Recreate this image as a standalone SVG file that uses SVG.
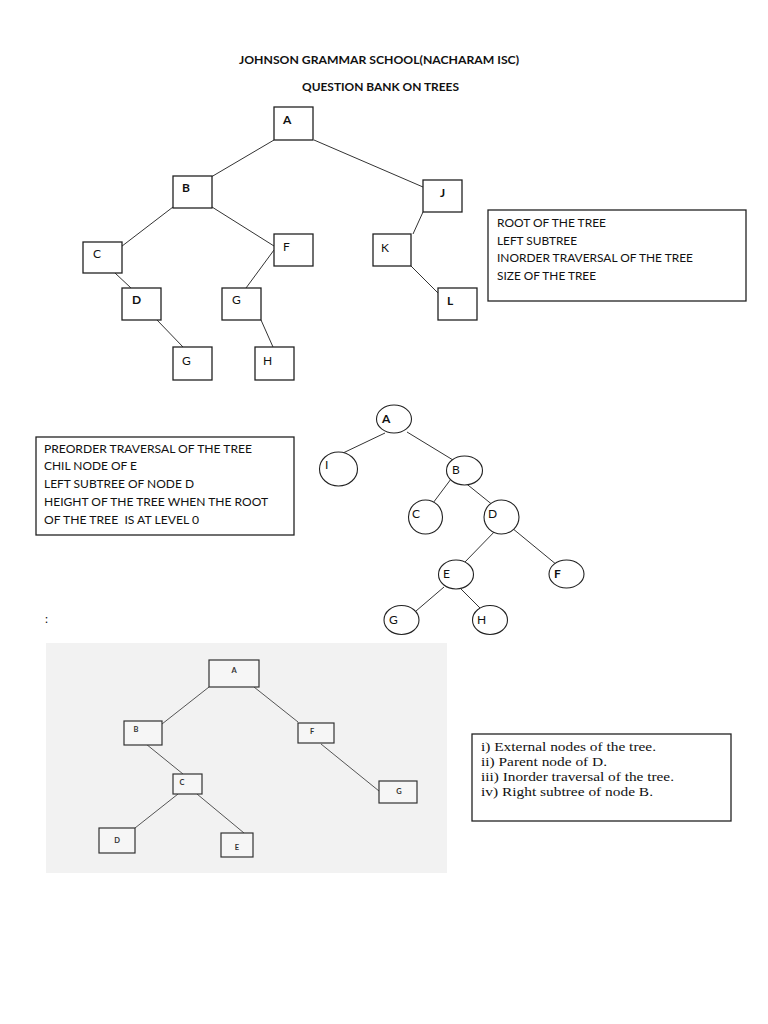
<svg xmlns="http://www.w3.org/2000/svg" width="768" height="1024" viewBox="0 0 768 1024">
<style>
text{font-family:Lato,"Open Sans","Liberation Sans",sans-serif;fill:#111;}
.t{font-size:12px;font-weight:bold;}
.box{fill:#fff;stroke:#222;stroke-width:1.3;}
.lbl{font-size:12px;}
.b{font-weight:bold;}
.edge{stroke:#333;stroke-width:1;fill:none;}
.circ{fill:#fff;stroke:#222;stroke-width:1.1;}
.q{font-size:12px;}
.qs{font-family:"Liberation Serif","Times New Roman",serif;font-size:13px;}
.g3box{fill:#f6f6f6;stroke:#333;stroke-width:1.2;}
.g3lbl{font-size:7.5px;font-weight:bold;fill:#333;}
.edge3{stroke:#555;stroke-width:1;fill:none;}
</style>
<rect width="768" height="1024" fill="#fff"/>
<g id="title">
<text class="t" x="239" y="64" textLength="280" lengthAdjust="spacingAndGlyphs">JOHNSON GRAMMAR SCHOOL(NACHARAM ISC)</text>
<text class="t" x="302" y="91" textLength="157" lengthAdjust="spacingAndGlyphs">QUESTION BANK ON TREES</text>
</g>
<!-- Tree 1 -->
<g id="tree1-edges">
<line class="edge" x1="274" y1="140" x2="206" y2="180"/>
<line class="edge" x1="314" y1="140" x2="423" y2="187"/>
<line class="edge" x1="173" y1="207" x2="113" y2="253"/>
<line class="edge" x1="212" y1="207" x2="274" y2="246"/>
<line class="edge" x1="115" y1="273" x2="131" y2="288"/>
<line class="edge" x1="274" y1="250" x2="246" y2="288"/>
<line class="edge" x1="423" y1="212" x2="413" y2="234"/>
<line class="edge" x1="411" y1="266" x2="438" y2="293"/>
<line class="edge" x1="157" y1="320" x2="183" y2="347"/>
<line class="edge" x1="261" y1="320" x2="273" y2="347"/>
</g>
<g id="t1-A"><rect class="box" x="274" y="107" width="39" height="33"/><text class="lbl b" x="283" y="124">A</text></g>
<g id="t1-B"><rect class="box" x="173" y="176" width="39" height="32"/><text class="lbl b" x="182" y="192">B</text></g>
<g id="t1-J"><rect class="box" x="423" y="180" width="39" height="32"/><text class="lbl b" x="440" y="197">J</text></g>
<g id="t1-C"><rect class="box" x="83" y="242" width="39" height="31"/><text class="lbl" x="93" y="258">C</text></g>
<g id="t1-F"><rect class="box" x="274" y="234" width="39" height="32"/><text class="lbl" x="283" y="251">F</text></g>
<g id="t1-K"><rect class="box" x="373" y="234" width="38" height="32"/><text class="lbl" x="381" y="252">K</text></g>
<g id="t1-D"><rect class="box" x="122" y="288" width="39" height="32"/><text class="lbl b" x="132" y="304">D</text></g>
<g id="t1-G"><rect class="box" x="222" y="288" width="39" height="32"/><text class="lbl" x="232" y="304">G</text></g>
<g id="t1-L"><rect class="box" x="438" y="288" width="39" height="32"/><text class="lbl b" x="447" y="305">L</text></g>
<g id="t1-G2"><rect class="box" x="173" y="347" width="39" height="33"/><text class="lbl" x="182" y="365">G</text></g>
<g id="t1-H"><rect class="box" x="255" y="347" width="39" height="33"/><text class="lbl" x="263" y="365">H</text></g>
<g id="q1">
<rect class="box" x="488" y="210" width="258" height="91"/>
<text class="q" x="497" y="227" textLength="109" lengthAdjust="spacingAndGlyphs">ROOT OF THE TREE</text>
<text class="q" x="497" y="244.5" textLength="80" lengthAdjust="spacingAndGlyphs">LEFT SUBTREE</text>
<text class="q" x="497" y="262" textLength="196" lengthAdjust="spacingAndGlyphs">INORDER TRAVERSAL OF THE TREE</text>
<text class="q" x="497" y="279.5" textLength="99" lengthAdjust="spacingAndGlyphs">SIZE OF THE TREE</text>
</g>
<!-- Question box 2 -->
<g id="q2">
<rect class="box" x="36" y="437" width="258" height="98"/>
<text class="q" x="44" y="452.5" textLength="208" lengthAdjust="spacingAndGlyphs">PREORDER TRAVERSAL OF THE TREE</text>
<text class="q" x="44" y="470" textLength="93" lengthAdjust="spacingAndGlyphs">CHIL NODE OF E</text>
<text class="q" x="44" y="488" textLength="150" lengthAdjust="spacingAndGlyphs">LEFT SUBTREE OF NODE D</text>
<text class="q" x="44" y="506" textLength="224" lengthAdjust="spacingAndGlyphs">HEIGHT OF THE TREE WHEN THE ROOT</text>
<text class="q" x="44" y="523.5" textLength="155" lengthAdjust="spacingAndGlyphs" xml:space="preserve">OF THE TREE  IS AT LEVEL 0</text>
</g>
<g id="colon"><text class="q" x="45" y="623">:</text></g>
<!-- Tree 2 -->
<g id="tree2-edges">
<line class="edge" x1="385" y1="433" x2="343" y2="453"/>
<line class="edge" x1="407" y1="432" x2="453" y2="460"/>
<line class="edge" x1="454" y1="475" x2="433" y2="503"/>
<line class="edge" x1="458" y1="477" x2="494" y2="506"/>
<line class="edge" x1="499" y1="527" x2="464" y2="563"/>
<line class="edge" x1="512" y1="528" x2="557" y2="565"/>
<line class="edge" x1="444" y1="587" x2="416" y2="611"/>
<line class="edge" x1="459" y1="587" x2="480" y2="608"/>
</g>
<g id="t2-A"><ellipse class="circ" cx="394" cy="419" rx="17.5" ry="14"/><text class="lbl b" x="382" y="423">A</text></g>
<g id="t2-I"><ellipse class="circ" cx="338.5" cy="469" rx="19" ry="17"/><text class="lbl" x="325" y="469">I</text></g>
<g id="t2-B"><ellipse class="circ" cx="464.5" cy="470.5" rx="18" ry="14.5"/><text class="lbl" x="452" y="474">B</text></g>
<g id="t2-C"><ellipse class="circ" cx="425.5" cy="517" rx="17" ry="17"/><text class="lbl" x="412" y="518">C</text></g>
<g id="t2-D"><ellipse class="circ" cx="501.5" cy="517" rx="17.5" ry="17"/><text class="lbl" x="488" y="518">D</text></g>
<g id="t2-E"><ellipse class="circ" cx="456" cy="574.5" rx="17.5" ry="14.5"/><text class="lbl" x="443" y="578">E</text></g>
<g id="t2-F"><ellipse class="circ" cx="566.5" cy="574" rx="17.5" ry="14"/><text class="lbl b" x="554" y="578">F</text></g>
<g id="t2-G"><ellipse class="circ" cx="401.5" cy="620" rx="17.5" ry="14.5"/><text class="lbl" x="389" y="624">G</text></g>
<g id="t2-H"><ellipse class="circ" cx="490" cy="620" rx="17.5" ry="14.5"/><text class="lbl" x="477" y="624">H</text></g>
<!-- Tree 3 -->
<rect x="46" y="643" width="401" height="230" fill="#f2f2f2"/>
<g id="tree3-edges">
<line class="edge3" x1="209" y1="687" x2="162" y2="724"/>
<line class="edge3" x1="254" y1="687" x2="298" y2="722"/>
<line class="edge3" x1="146" y1="744" x2="183" y2="774"/>
<line class="edge3" x1="321" y1="744" x2="379" y2="791"/>
<line class="edge3" x1="178" y1="794" x2="135" y2="828"/>
<line class="edge3" x1="197" y1="794" x2="244" y2="833"/>
</g>
<g id="t3-A"><rect class="g3box" x="209" y="660" width="50" height="27"/><text class="g3lbl" x="234" y="673" text-anchor="middle">A</text></g>
<g id="t3-B"><rect class="g3box" x="124" y="721" width="38" height="24"/><text class="g3lbl" x="136" y="732" text-anchor="middle">B</text></g>
<g id="t3-F"><rect class="g3box" x="298" y="723" width="36" height="20"/><text class="g3lbl" x="312" y="734" text-anchor="middle">F</text></g>
<g id="t3-C"><rect class="g3box" x="173" y="774" width="29" height="20"/><text class="g3lbl" x="182" y="785" text-anchor="middle">C</text></g>
<g id="t3-G"><rect class="g3box" x="379" y="781" width="38" height="22"/><text class="g3lbl" x="399" y="794" text-anchor="middle">G</text></g>
<g id="t3-D"><rect class="g3box" x="99" y="828" width="36" height="25"/><text class="g3lbl" x="117" y="843" text-anchor="middle">D</text></g>
<g id="t3-E"><rect class="g3box" x="221" y="833" width="32" height="24"/><text class="g3lbl" x="237" y="850" text-anchor="middle">E</text></g>
<g id="q3">
<rect class="box" x="472" y="734" width="259" height="87"/>
<text class="qs" x="481" y="750.5" textLength="175" lengthAdjust="spacingAndGlyphs">i) External nodes of the tree.</text>
<text class="qs" x="481" y="765.5" textLength="126" lengthAdjust="spacingAndGlyphs">ii) Parent node of D.</text>
<text class="qs" x="481" y="780.5" textLength="193" lengthAdjust="spacingAndGlyphs">iii) Inorder traversal of the tree.</text>
<text class="qs" x="481" y="795.5" textLength="172" lengthAdjust="spacingAndGlyphs">iv) Right subtree of node B.</text>
</g>
</svg>
